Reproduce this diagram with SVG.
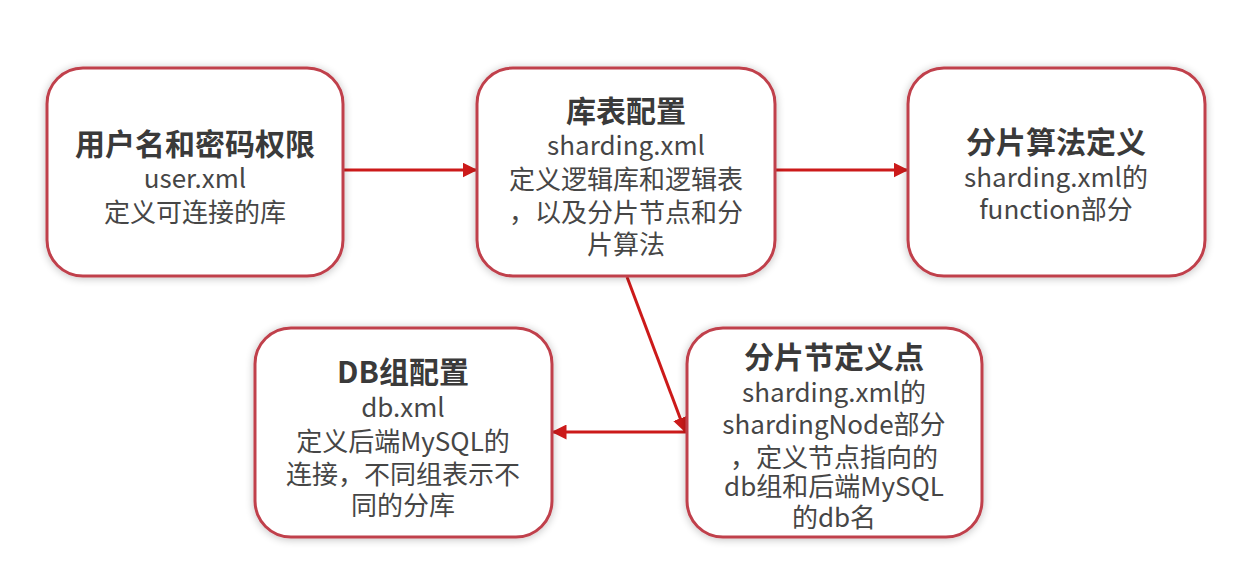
<svg xmlns="http://www.w3.org/2000/svg" width="1258" height="564" viewBox="0 0 1258 564">
<style>
.box{fill:#ffffff;stroke:#c0404c;stroke-width:3;filter:url(#sh)}
.t{font-family:"Noto Sans CJK SC","Noto Sans",sans-serif;fill:#464646;text-anchor:middle;dominant-baseline:central;font-size:26px}
.h{font-size:30px;font-weight:bold;fill:#3a3a3a}
.c{stroke:#cc1a1a;stroke-width:3;fill:none;marker-end:url(#ah)}
</style>
<defs>
<filter id="sh" x="-10%" y="-10%" width="120%" height="120%">
<feGaussianBlur in="SourceAlpha" stdDeviation="4"/>
<feOffset dx="0" dy="1" result="o"/>
<feComponentTransfer><feFuncA type="linear" slope="0.25"/></feComponentTransfer>
<feMerge><feMergeNode/><feMergeNode in="SourceGraphic"/></feMerge>
</filter>
<marker id="ah" viewBox="0 0 10 10" refX="9" refY="5" markerWidth="5" markerHeight="5" orient="auto" markerUnits="strokeWidth">
<path d="M0,0 L10,5 L0,10 z" fill="#cc1a1a"/>
</marker>
</defs>
<rect width="1258" height="564" fill="#ffffff"/>
<g id="connectors">
<line class="c" x1="343" y1="170" x2="476" y2="170"/>
<line class="c" x1="775" y1="170" x2="907" y2="170"/>
<line class="c" x1="627" y1="277" x2="685" y2="431"/>
<line class="c" x1="687" y1="432" x2="553" y2="432"/>
</g>
<g id="n1">
<rect class="box" x="47" y="68" width="296" height="208" rx="36"/>
<text class="t"><tspan class="h" x="195" y="142">用户名和密码权限</tspan><tspan x="195" y="176">user.xml</tspan><tspan x="195" y="210">定义可连接的库</tspan></text>
</g>
<g id="n2">
<rect class="box" x="477" y="68" width="298" height="208" rx="36"/>
<text class="t"><tspan class="h" x="626" y="109">库表配置</tspan><tspan x="626" y="143">sharding.xml</tspan><tspan x="626" y="177">定义逻辑库和逻辑表</tspan><tspan x="626" y="210">，以及分片节点和分</tspan><tspan x="626" y="242">片算法</tspan></text>
</g>
<g id="n3">
<rect class="box" x="908" y="68" width="297" height="208" rx="36"/>
<text class="t"><tspan class="h" x="1056" y="140">分片算法定义</tspan><tspan x="1056" y="175">sharding.xml的</tspan><tspan x="1056" y="207">function部分</tspan></text>
</g>
<g id="n4">
<rect class="box" x="255" y="328" width="297" height="209" rx="36"/>
<text class="t"><tspan class="h" x="403" y="370">DB组配置</tspan><tspan x="403" y="405">db.xml</tspan><tspan x="403" y="439">定义后端MySQL的</tspan><tspan x="403" y="472">连接，不同组表示不</tspan><tspan x="403" y="503">同的分库</tspan></text>
</g>
<g id="n5">
<rect class="box" x="687" y="328" width="295" height="209" rx="36"/>
<text class="t"><tspan class="h" x="834" y="355">分片节定义点</tspan><tspan x="834" y="390">sharding.xml的</tspan><tspan x="834" y="422">shardingNode部分</tspan><tspan x="834" y="455">，定义节点指向的</tspan><tspan x="834" y="484">db组和后端MySQL</tspan><tspan x="834" y="515">的db名</tspan></text>
</g>
</svg>
